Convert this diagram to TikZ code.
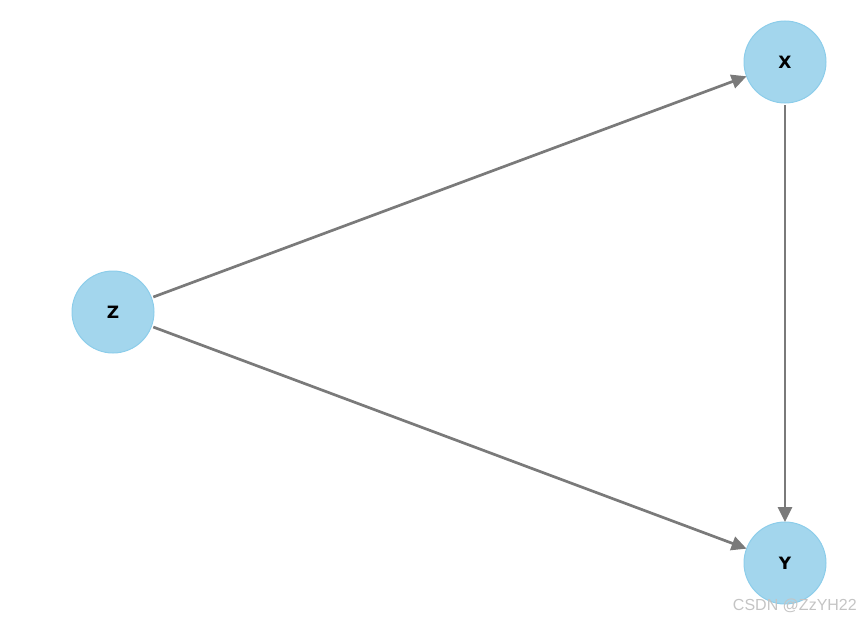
\documentclass[tikz,border=0pt]{standalone}
\usepackage{fontspec}
\setmainfont{DejaVu Sans}
\newfontfamily\wmfont{Liberation Sans}
\usetikzlibrary{arrows.meta}
\definecolor{nodefill}{HTML}{A3D6ED}
\definecolor{nodeedge}{HTML}{8CCDEA}
\definecolor{edgegray}{HTML}{7A7A7A}
\definecolor{wmgray}{HTML}{C4C4C4}
\tikzset{
  var/.style={circle, fill=nodefill, draw=nodeedge, line width=1pt, minimum size=82pt, inner sep=0pt, outer sep=0pt, font=\bfseries\fontsize{17pt}{19pt}\selectfont},
  edge/.style={draw=edgegray, line width=2.7pt, -{Triangle[length=15pt,width=14pt]}, fill=edgegray, shorten <=2pt}
}
\begin{document}
\begin{tikzpicture}[x=1pt,y=-1pt]
\useasboundingbox (0,0) rectangle (860,621);
\node[var] (x) at (785,62) {X};
\node[var] (z) at (113,312) {Z};
\node[var] (y) at (785,563) {Y};
\draw[edge] (z) -- (x);
\draw[edge] (z) -- (y);
\draw[edge] (x) -- (y);
\node[anchor=east, text=wmgray, font=\wmfont\fontsize{16pt}{18pt}\selectfont, inner sep=0pt] (wm) at (857,606) {CSDN @ZzYH22};
\end{tikzpicture}
\end{document}
